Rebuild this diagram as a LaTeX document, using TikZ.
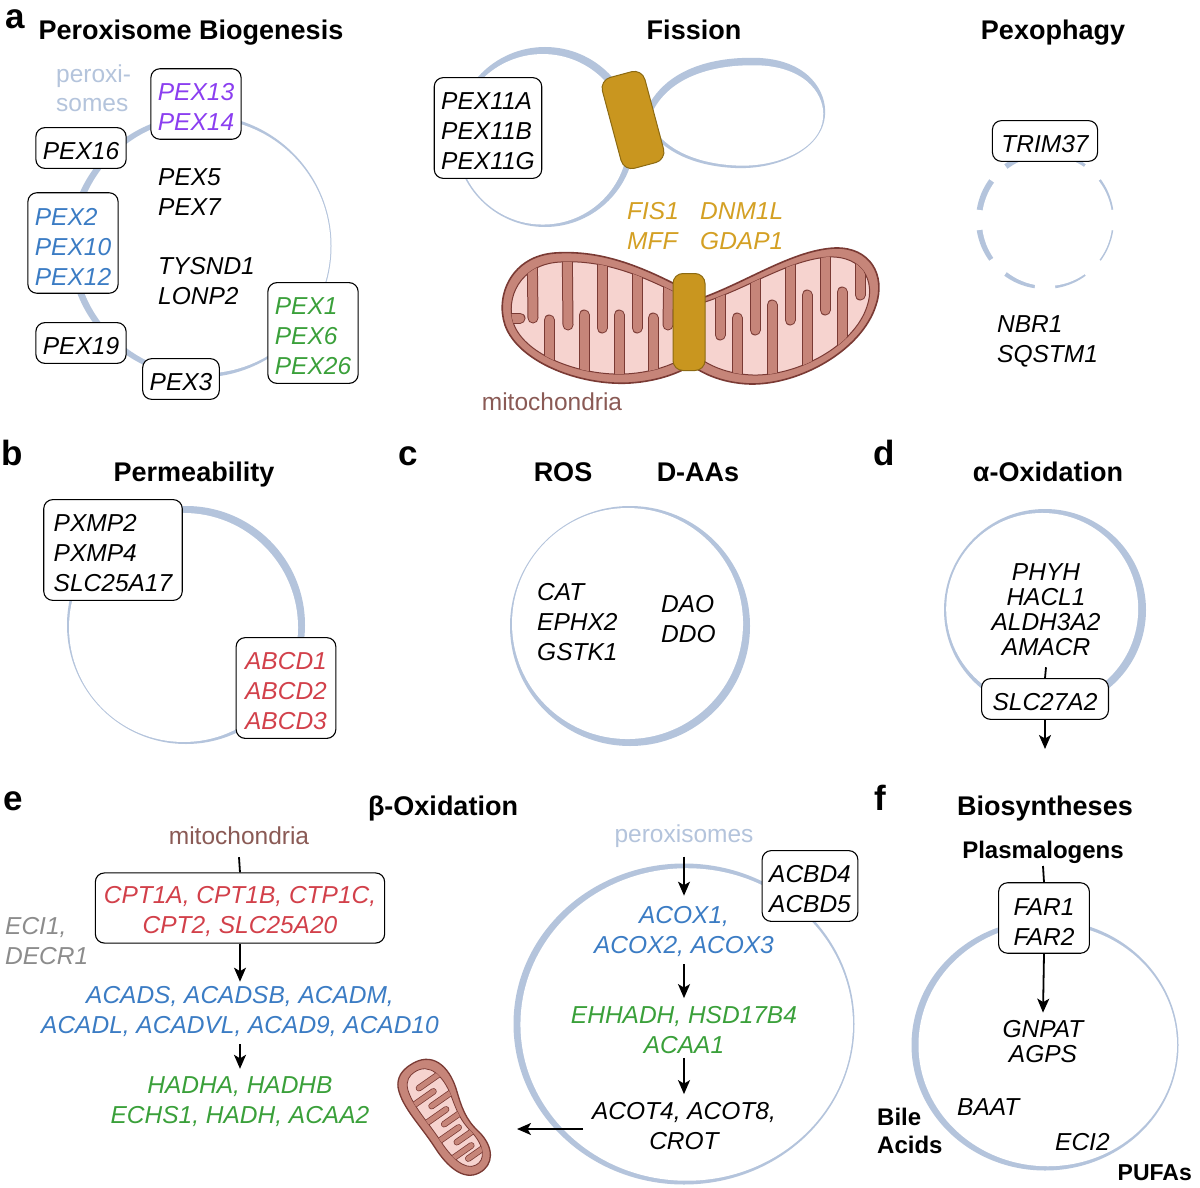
\documentclass[tikz,border=0pt]{standalone}
\usepackage{fontspec}
\setmainfont{Liberation Sans}
\usetikzlibrary{calc,arrows.meta}
\definecolor{memb}{HTML}{B4C4DC}
\definecolor{gred}{HTML}{D2404A}
\definecolor{gblue}{HTML}{3B7CC4}
\definecolor{ggreen}{HTML}{3AA03A}
\definecolor{gpurple}{HTML}{8B3EF0}
\definecolor{ggold}{HTML}{D4A024}
\definecolor{capsule}{HTML}{C9961F}
\definecolor{capsuleline}{HTML}{8C6A12}
\definecolor{mbrown}{HTML}{8A5A55}
\definecolor{ggray}{HTML}{8C8C8C}
\definecolor{mitoout}{HTML}{C68579}
\definecolor{mitoin}{HTML}{F6D3CF}
\definecolor{mitoline}{HTML}{7A3A34}
\newcommand\upp{\rule{0pt}{24pt}}
% cx cy r thinangle thick thin
\newcommand\membrane[6]{%
  \fill[memb] (#1,#2) circle[radius={#3+(#5)/2}];
  \fill[white] ($(#1,#2)+(#4:{(#5-#6)/2})$) circle[radius={#3+(#5)/2-(#5+#6)/2}];
}
% cx cy rx ry thinangle thick thin
\newcommand\membraneE[7]{%
  \fill[memb] (#1,#2) ellipse[x radius={#3+(#6)/2}, y radius={#4+(#6)/2}];
  \fill[white] ($(#1,#2)+(#5:{(#6-#7)/2})$) ellipse[x radius={#3+(#6)/2-(#6+#7)/2}, y radius={#4+(#6)/2-(#6+#7)/2}];
}
\newcommand\eggpath{(-92,5) .. controls (-75,-45) and (-20,-57) .. (25,-55) .. controls (75,-52) and (92,-20) .. (90,2) .. controls (88,35) and (45,57) .. (0,55) .. controls (-45,53) and (-80,35) .. (-92,5) -- cycle}
\newcommand\lobeL{(690,292) .. controls (640,265) and (600,250) .. (555,253) .. controls (512,256) and (495,295) .. (505,325) .. controls (518,362) and (580,386) .. (630,383) .. controls (660,381) and (680,372) .. (690,366) -- cycle}
\newcommand\lobeR{(690,302) .. controls (740,287) and (790,250) .. (835,248) .. controls (870,247) and (886,275) .. (876,305) .. controls (862,350) and (800,385) .. (750,384) .. controls (720,383) and (700,372) .. (690,364) -- cycle}
\newcommand\beanpath{(-64,0) .. controls (-64,-28) and (-40,-32) .. (-18,-25) .. controls (0,-19) and (12,-15) .. (30,-19) .. controls (52,-23) and (66,-12) .. (64,4) .. controls (62,22) and (40,27) .. (18,26) .. controls (-8,25) and (-34,30) .. (-52,22) .. controls (-62,17) and (-64,8) .. (-64,0) -- cycle}
\tikzset{
  gene/.style={font=\fontsize{24.5}{30}\selectfont\itshape, inner sep=0pt},
  genebox/.style={gene, draw, fill=white, rounded corners=9pt, line width=1.1pt, inner xsep=7pt, inner ysep=8.25pt},
  ttl/.style={font=\fontsize{27}{30}\selectfont\bfseries, inner sep=0pt, anchor=base},
  plabel/.style={font=\fontsize{35}{35}\selectfont\bfseries, inner sep=0pt, anchor=base},
  lbl/.style={font=\fontsize{24.5}{29}\selectfont, inner sep=0pt},
  arr/.style={-{Stealth[length=14pt,width=12pt,inset=3.5pt]}, line width=1.8pt},
  ln/.style={line width=1.8pt},
  capsulebox/.style={draw=capsuleline, fill=capsule, line width=1pt, rounded corners=11pt, inner sep=0pt},
  cristaD/.style={draw=mitoline, line width=11pt, line cap=round},
  cristaL/.style={draw=mitoout, line width=9pt, line cap=round},
  cristaDs/.style={draw=mitoline, line width=6.5pt, line cap=round},
  cristaLs/.style={draw=mitoout, line width=5pt, line cap=round},
}
\begin{document}
\begin{tikzpicture}[x=1pt,y=-1pt]
\useasboundingbox (0,0) rectangle (1200,1188);
\fill[white] (0,0) rectangle (1200,1188);

% ---------- panel letters and titles
\node[plabel] (la) at (15,29) {a};
\node[plabel] (lb) at (12,465) {b};
\node[plabel] (lc) at (408,465) {c};
\node[plabel] (ld) at (884,465) {d};
\node[plabel] (le) at (13,810) {e};
\node[plabel] (lf) at (880,810) {f};
\node[ttl] (t1) at (191,40) {Peroxisome Biogenesis};
\node[ttl] (t2) at (694,40) {Fission};
\node[ttl] (t3) at (1053,40) {Pexophagy};
\node[ttl] (t4) at (194,481) {Permeability};
\node[ttl] (t5) at (563,481) {ROS};
\node[ttl] (t6) at (698,481) {D-AAs};
\node[ttl] (t7) at (1048,481) {α-Oxidation};
\node[ttl] (t8) at (443,815) {β-Oxidation};
\node[ttl] (t9) at (1045,815) {Biosyntheses};

% ---------- a: biogenesis
\membrane{200}{246}{128}{0}{7}{1}
\node[lbl, text=memb, align=left, anchor=west] (pxlab) at (56,88) {peroxi-\\somes};
\node[genebox, text=gpurple, align=left] (p13) at (196,104) {\upp PEX13\\PEX14};
\node[genebox] (p16) at (81,148) {\upp PEX16};
\node[genebox, text=gblue, align=left] (p2) at (73,243) {\upp PEX2\\PEX10\\PEX12};
\node[genebox] (p19) at (81,343) {\upp PEX19};
\node[genebox] (p3) at (181,379) {\upp PEX3};
\node[genebox, text=ggreen, align=left] (p1) at (313,333) {\upp PEX1\\PEX6\\PEX26};
\node[gene, align=left, anchor=west] (p5) at (158,192) {PEX5\\PEX7};
\node[gene, align=left, anchor=west] (tys) at (158,281) {TYSND1\\LONP2};

% ---------- a: fission
\membrane{545}{137}{86}{135}{8}{1.5}
\begin{scope}[shift={(735,113)}]
  \fill[memb] \eggpath;
  \fill[white, shift={(2,2.5)}, xscale=0.957, yscale=0.91] \eggpath;
\end{scope}
\node[capsulebox, minimum width=44pt, minimum height=94pt, rotate=15] (cap1) at (633,120) {};
\node[genebox, align=left] (p11) at (488,128) {\upp PEX11A\\PEX11B\\PEX11G};
\node[gene, text=ggold, align=left, anchor=west] (fis) at (627,226) {FIS1\\MFF};
\node[gene, text=ggold, align=left, anchor=west] (dnm) at (700,226) {DNM1L\\GDAP1};

% big mitochondrion
\fill[mitoout] \lobeL;
\fill[mitoout] \lobeR;
\fill[mitoin, draw=mitoline, line width=1pt, shift={(597,318)}, xscale=0.905, yscale=0.86, shift={(-597,-318)}] \lobeL;
\fill[mitoin, draw=mitoline, line width=1pt, shift={(783,316)}, xscale=0.903, yscale=0.868, shift={(-783,-316)}] \lobeR;
\begin{scope}
  \clip[shift={(597,318)}, xscale=0.905, yscale=0.86, shift={(-597,-318)}] \lobeL;
  \foreach \st in {cristaD,cristaL}{
    \foreach \sx/\sy/\ex/\ey in {532/235/533/318, 567/230/568/325, 602/235/602/328, 637/245/637/328, 669/260/668/325,
                                 549/405/549/320, 584/405/584/315, 619/405/619/315, 653/400/653/318, 490/318/520/318}
      \draw[\st] (\sx,\sy) -- (\ex,\ey);
  }
\end{scope}
\begin{scope}
  \clip[shift={(783,316)}, xscale=0.903, yscale=0.868, shift={(-783,-316)}] \lobeR;
  \foreach \st in {cristaD,cristaL}{
    \foreach \sx/\sy/\ex/\ey in {720/270/720/335, 755/250/755/330, 790/235/790/320, 825/230/825/310, 860/240/860/295,
                                 737/400/737/318, 772/400/772/305, 807/395/807/295, 842/380/842/292}
      \draw[\st] (\sx,\sy) -- (\ex,\ey);
  }
\end{scope}
\draw[mitoline, line width=1.6pt] \lobeL;
\draw[mitoline, line width=1.6pt] \lobeR;
\node[capsulebox, minimum width=32pt, minimum height=97pt, rounded corners=10pt] (cap2) at (689,322) {};
\node[lbl, text=mbrown] (mitolab) at (552,402) {mitochondria};

% ---------- a: pexophagy
\membrane{1045}{220}{66}{20}{6}{1.5}
\draw[white, line width=14pt, dash pattern=on 20pt off 31.84pt, dash phase=10pt] (1045,220) circle[radius=66];
\node[genebox, inner xsep=9pt] (trim) at (1045,141) {\upp TRIM37};
\node[gene, align=left, anchor=west] (nbr) at (997,341) {NBR1\\SQSTM1};

% ---------- b
\membrane{186}{625}{115}{135}{8}{1}
\node[genebox, align=left, inner xsep=10pt] (pxmp) at (113,550) {\upp PXMP2\\PXMP4\\SLC25A17};
\node[genebox, text=gred, align=left, inner xsep=9pt] (abcd) at (286,688) {\upp ABCD1\\ABCD2\\ABCD3};

% ---------- c
\membrane{630}{626}{116}{225}{8}{1}
\node[gene, align=left, anchor=west] (cat) at (537,622) {CAT\\EPHX2\\GSTK1};
\node[gene, align=left, anchor=west] (dao) at (661,619) {DAO\\DDO};

% ---------- d
\membrane{1045}{610}{97}{200}{8}{2}
\node[gene, font=\fontsize{24.5}{25}\selectfont\itshape, align=center] (phyh) at (1046,610) {PHYH\\HACL1\\ALDH3A2\\AMACR};
\node[genebox, inner xsep=11pt] (slc) at (1045,699) {\upp SLC27A2};
\draw[ln] ($(phyh.south)+(0,11)$) -- (slc.north);
\coordinate (dout) at (1045,749);
\draw[arr] (slc.south) -- (dout);

% ---------- e left
\node[lbl, text=mbrown] (mitoE) at (239,836) {mitochondria};
\node[genebox, text=gred, align=center, inner xsep=8.5pt, inner ysep=6.5pt] (cpt) at (240,908) {\upp CPT1A, CPT1B, CTP1C,\\CPT2, SLC25A20};
\draw[ln] ($(mitoE.south)+(0,12)$) -- (cpt.north);
\node[gene, text=ggray, align=left, anchor=west] (eci) at (5,941) {ECI1,\\DECR1};
\node[gene, text=gblue, align=center] (acad) at (240,1012) {ACADS, ACADSB, ACADM,\\ACADL, ACADVL, ACAD9, ACAD10};
\draw[arr] (cpt.south) -- ($(acad.north)+(0,-5)$);
\node[gene, text=ggreen, align=center] (hadh) at (240,1102) {HADHA, HADHB\\ECHS1, HADH, ACAA2};
\draw[arr] ($(acad.south)+(0,7)$) -- ($(hadh.north)+(0,-8)$);

% small mitochondrion
\begin{scope}[shift={(446,1118)}, rotate=-55]
  \fill[mitoout] \beanpath;
  \fill[mitoin, draw=mitoline, line width=0.8pt, xscale=0.87, yscale=0.68] \beanpath;
  \begin{scope}
    \clip[xscale=0.87, yscale=0.68] \beanpath;
    \foreach \st in {cristaDs,cristaLs}{
      \foreach \cx in {-40,-18,4,26,46} \draw[\st] (\cx,-40) -- (\cx,5);
      \foreach \cx in {-29,-7,15,37} \draw[\st] (\cx,40) -- (\cx,-5);
    }
  \end{scope}
  \draw[mitoline, line width=1.3pt] \beanpath;
\end{scope}
\coordinate (mitoS) at (517,1129);

% ---------- e right
\membraneE{684}{1024}{167}{157}{10}{7}{1.5}
\node[lbl, text=memb] (perE) at (684,836) {peroxisomes};
\node[gene, text=gblue, align=center] (acox) at (684,932) {ACOX1,\\ACOX2, ACOX3};
\draw[arr] ($(perE.south)+(0,9)$) -- ($(acox.north)+(0,-11)$);
\node[gene, text=ggreen, align=center] (ehh) at (684,1030) {EHHADH, HSD17B4\\ACAA1};
\draw[arr] ($(acox.south)+(0,7)$) -- ($(ehh.north)+(0,-8)$);
\node[gene, align=center] (acot) at (684,1126) {ACOT4, ACOT8,\\CROT};
\draw[arr] ($(ehh.south)+(0,4)$) -- ($(acot.north)+(0,-8)$);
\node[genebox, align=left] (acbd) at (810,886) {\upp ACBD4\\ACBD5};
\coordinate (acotL) at (583,1129);
\draw[arr] (acotL) -- (mitoS);

% ---------- f
\membraneE{1045}{1045}{130}{122}{0}{7}{1.5}
\node[ttl, font=\fontsize{24}{28}\selectfont\bfseries] (plas) at (1043,858) {Plasmalogens};
\node[genebox, align=left, inner xsep=15pt] (far) at (1044,918) {\upp FAR1\\FAR2};
\draw[ln] ($(plas.base)+(0,8)$) -- (far.north);
\node[gene, font=\fontsize{24.5}{25}\selectfont\itshape, align=center] (gnpat) at (1043,1042) {GNPAT\\AGPS};
\draw[arr] (far.south) -- ($(gnpat.north)+(0,-8)$);
\node[gene, anchor=west] (baat) at (957,1107) {BAAT};
\node[gene, anchor=west] (eci2) at (1055,1142) {ECI2};
\node[font=\fontsize{24}{28}\selectfont\bfseries, inner sep=0pt, align=left, anchor=west] (bile) at (877,1131) {Bile\\Acids};
\node[font=\fontsize{23}{28}\selectfont\bfseries, inner sep=0pt, anchor=base east] (pufa) at (1192,1180) {PUFAs};
\end{tikzpicture}
\end{document}
